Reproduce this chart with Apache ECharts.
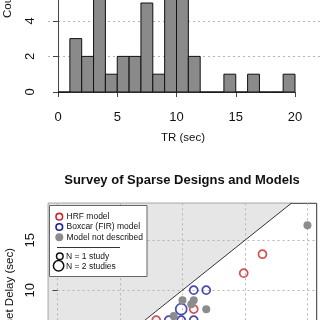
<!DOCTYPE html>
<html>
<head>
<meta charset="utf-8">
<script src="https://cdn.jsdelivr.net/npm/echarts@6/dist/echarts.min.js"></script>
<style>
  html, body { margin: 0; padding: 0; background: #fff; }
  #chart { width: 320px; height: 320px; }
</style>
</head>
<body>
<div id="chart"></div>
<script>
// histogram of TR values (1 sec bins)
var binStarts = [0, 1, 2, 3, 4, 5, 6, 7, 8, 9, 10, 11, 12, 13, 14, 15, 16, 17, 18, 19];
var binCounts = [0, 3, 2, 6, 1, 2, 2, 5, 1, 7, 7, 2, 0, 0, 1, 0, 1, 0, 0, 1];
var histXTicks = [0, 5, 10, 15, 20];

// survey scatter: [TR, delay, number of studies]
var hrfPoints = [[16.4, 13.6, 1], [14.9, 11.7, 1], [10.9, 8.1, 1], [7.9, 7.0, 1]];
var boxcarPoints = [[10.9, 10, 1], [11.9, 10, 1], [9.9, 8.1, 2], [8.9, 7.0, 1], [9.9, 7.0, 1], [10.9, 7.0, 1]];
var otherPoints = [[20, 16.5, 1], [10.0, 9.0, 1], [10.9, 9.0, 1], [10.7, 8.6, 1], [11.9, 8.1, 1], [9.3, 7.4, 1]];

var FONT = "Liberation Sans, Arial, sans-serif";
var axisCol = "#444";
var scatXMin = -0.74, scatXMax = 20.74, scatYMax = 18.7;

var chart = echarts.init(document.getElementById("chart"));

function sizeOf(v) {
  return v[2] === 2 ? 11 : 8;
}

// legend box pieces (drawn on top of the scatter)
var legendItems = [
  { type: "rect", shape: { x: 49.5, y: 205.5, width: 97.5, height: 71 }, style: { fill: "#fff", stroke: "#666", lineWidth: 1 } },
  { type: "circle", shape: { cx: 59.3, cy: 216.7, r: 3.3 }, style: { fill: "none", stroke: "#c8262a", lineWidth: 1.6 } },
  { type: "circle", shape: { cx: 59.3, cy: 227, r: 3.3 }, style: { fill: "none", stroke: "#1c1c9c", lineWidth: 1.6 } },
  { type: "circle", shape: { cx: 59.3, cy: 237.3, r: 4 }, style: { fill: "#8c8c8c" } },
  { type: "text", x: 66.5, y: 216.7, style: { text: "HRF model", font: "8.5px " + FONT, fill: "#111", verticalAlign: "middle" } },
  { type: "text", x: 66.5, y: 227, style: { text: "Boxcar (FIR) model", font: "8.5px " + FONT, fill: "#111", verticalAlign: "middle" } },
  { type: "text", x: 66.5, y: 237.3, style: { text: "Model not described", font: "8.5px " + FONT, fill: "#111", verticalAlign: "middle" } },
  { type: "line", shape: { x1: 57, y1: 247.5, x2: 120, y2: 247.5 }, style: { stroke: "#333", lineWidth: 1 } },
  { type: "circle", shape: { cx: 59.8, cy: 256.3, r: 3.3 }, style: { fill: "none", stroke: "#111", lineWidth: 1.5 } },
  { type: "circle", shape: { cx: 58.6, cy: 265.8, r: 5.2 }, style: { fill: "none", stroke: "#111", lineWidth: 1.5 } },
  { type: "text", x: 66, y: 256.7, style: { text: "N = 1 study", font: "8.5px " + FONT, fill: "#111", verticalAlign: "middle" } },
  { type: "text", x: 66, y: 266.7, style: { text: "N = 2 studies", font: "8.5px " + FONT, fill: "#111", verticalAlign: "middle" } }
];
legendItems.forEach(function (el, i) { el.z = 100; el.z2 = i; });

var option = {
  animation: false,
  textStyle: { fontFamily: FONT },
  grid: [
    // histogram plot region (gridlines + y axis)
    { left: 48, width: 272, top: -50.4, height: 142.4, outerBoundsMode: "none", containLabel: false },
    // histogram data region
    { left: 58, width: 237, top: -50.4, height: 142.4, outerBoundsMode: "none", containLabel: false },
    // scatter frame
    { left: 48.3, width: 268.4, top: 203.3, height: 186.7, outerBoundsMode: "none", containLabel: false, show: true, borderColor: "#333", borderWidth: 1, backgroundColor: "transparent" },
    // scatter data region
    { left: 57.5, width: 259.2, top: 203.3, height: 186.7, outerBoundsMode: "none", containLabel: false }
  ],
  xAxis: [
    { gridIndex: 0, type: "value", min: -0.84, max: 22.1, show: false },
    {
      gridIndex: 1, type: "value", min: 0, max: 20, interval: 5, offset: 7,
      axisLine: { show: true, lineStyle: { color: axisCol } },
      axisTick: { show: true, length: 5, lineStyle: { color: axisCol } },
      axisLabel: { color: "#111", fontSize: 13, margin: 12, fontFamily: FONT },
      splitLine: { show: false }
    },
    { gridIndex: 2, type: "value", min: 0, max: 1, show: false },
    {
      gridIndex: 3, type: "value", min: 0, max: scatXMax, interval: 5, z: 3,
      axisLine: { show: false }, axisTick: { show: false }, axisLabel: { show: false },
      splitLine: { show: true, showMaxLine: false, lineStyle: { color: "#b5b5b5", type: [2, 3], width: 1 } }
    }
  ],
  yAxis: [
    {
      gridIndex: 0, type: "value", min: 0, max: 8, interval: 2,
      axisLine: { show: true, lineStyle: { color: axisCol } },
      axisTick: { show: true, length: 5, lineStyle: { color: axisCol } },
      axisLabel: { color: "#111", fontSize: 13, rotate: 90, margin: 11, fontFamily: FONT },
      splitLine: { show: true, showMinLine: false, lineStyle: { color: "#b5b5b5", type: [2, 3], width: 1 } }
    },
    { gridIndex: 1, type: "value", min: 0, max: 8, show: false },
    { gridIndex: 2, type: "value", min: 0, max: 1, show: false },
    {
      gridIndex: 3, type: "value", min: 0, max: scatYMax, interval: 5, offset: 9.2, z: 3,
      axisLine: { show: false },
      axisTick: { show: true, length: 5, lineStyle: { color: axisCol } },
      axisLabel: { color: "#111", fontSize: 13, rotate: 90, margin: 11, fontFamily: FONT, showMaxLabel: false },
      splitLine: { show: true, showMaxLine: false, lineStyle: { color: "#b5b5b5", type: [2, 3], width: 1 } }
    }
  ],
  series: [
    {
      name: "TR histogram",
      type: "custom",
      xAxisIndex: 1,
      yAxisIndex: 1,
      data: binStarts.map(function (s, i) { return [s, s + 1, binCounts[i]]; }),
      encode: { x: [0, 1], y: 2 },
      clip: false,
      renderItem: function (params, api) {
        var p0 = api.coord([api.value(0), 0]);
        var p1 = api.coord([api.value(1), api.value(2)]);
        return {
          type: "rect",
          shape: { x: p0[0], y: p1[1], width: p1[0] - p0[0], height: p0[1] - p1[1] },
          style: { fill: "#8a8a8a", stroke: "#111", lineWidth: 1 }
        };
      }
    },
    {
      name: "shade",
      type: "custom",
      xAxisIndex: 3,
      yAxisIndex: 3,
      z: 1,
      clip: false,
      silent: true,
      data: [[scatXMin, scatYMax]],
      renderItem: function (params, api) {
        var a = api.coord([scatXMin, scatXMin]);
        var b = api.coord([scatXMin, scatYMax]);
        var c = api.coord([scatYMax, scatYMax]);
        return {
          type: "polygon",
          shape: { points: [a, b, c] },
          style: { fill: "#e6e6e6" }
        };
      }
    },
    {
      name: "diagonal",
      type: "custom",
      xAxisIndex: 3,
      yAxisIndex: 3,
      z: 4,
      clip: false,
      silent: true,
      data: [[scatXMin, scatYMax]],
      renderItem: function (params, api) {
        var a = api.coord([scatXMin, scatXMin]);
        var c = api.coord([scatYMax, scatYMax]);
        return {
          type: "line",
          shape: { x1: a[0], y1: a[1], x2: c[0], y2: c[1] },
          style: { stroke: "#333", lineWidth: 1 }
        };
      }
    },
    {
      name: "HRF model",
      type: "scatter",
      xAxisIndex: 3, yAxisIndex: 3, z: 5,
      data: hrfPoints,
      symbol: "circle",
      symbolSize: sizeOf,
      itemStyle: { color: "rgba(0,0,0,0)", borderColor: "#c8262a", borderWidth: 1.7 }
    },
    {
      name: "Boxcar (FIR) model",
      type: "scatter",
      xAxisIndex: 3, yAxisIndex: 3, z: 5,
      data: boxcarPoints,
      symbol: "circle",
      symbolSize: sizeOf,
      itemStyle: { color: "rgba(0,0,0,0)", borderColor: "#1c1c9c", borderWidth: 1.7 }
    },
    {
      name: "Model not described",
      type: "scatter",
      xAxisIndex: 3, yAxisIndex: 3, z: 5,
      data: otherPoints,
      symbol: "circle",
      symbolSize: sizeOf,
      itemStyle: { color: "#8c8c8c", opacity: 1 }
    }
  ],
  graphic: {
    z: 100,
    elements: [
      // axis names and title
      { type: "text", x: 8, y: 18, rotation: Math.PI / 2, style: { text: "Count", font: "11.5px " + FONT, fill: "#111", align: "left", verticalAlign: "middle" } },
      { type: "text", x: 183, y: 138, style: { text: "TR (sec)", font: "11.5px " + FONT, fill: "#111", align: "center", verticalAlign: "middle" } },
      { type: "text", x: 182, y: 180, style: { text: "Survey of Sparse Designs and Models", font: "bold 13px " + FONT, fill: "#111", align: "center", verticalAlign: "middle" } },
      { type: "text", x: 10, y: 248, rotation: Math.PI / 2, style: { text: "Onset Delay (sec)", font: "11.5px " + FONT, fill: "#111", align: "right", verticalAlign: "middle" } }
    ].concat(legendItems)
  }
};

chart.setOption(option);
</script>
</body>
</html>
